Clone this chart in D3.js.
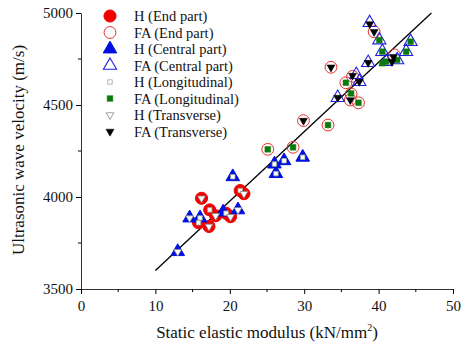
<!DOCTYPE html>
<html>
<head>
<meta charset="utf-8">
<script src="https://cdn.jsdelivr.net/npm/d3@7"></script>
<style>
  body { margin: 0; background: #fff; }
  text { font-family: "Liberation Serif", "DejaVu Serif", serif; }
</style>
</head>
<body>
<script>
// series data: [x (kN/mm2), y (m/s)]
const hEnd = [[16.2,3993],[17.3,3930],[15.8,3860],[17.2,3840],[18.1,3898],[19.5,3912],[20.1,3893],[21.4,4035],[21.9,4018]];
const faEnd = [[25.1,4259],[28.5,4270],[29.9,4415],[33.2,4391],[33.6,4705],[35.6,4621],[36.5,4656],[36.3,4560],[36.2,4527],[37.3,4512],[39.4,4898],[42.1,4772]];
const hCentral = [[13.0,3703],[14.6,3886],[16.0,3886],[19.1,3918],[21.1,3930],[20.4,4110],[26.0,4179],[26.2,4127],[27.3,4197],[29.8,4216]];
const faCentral = [[34.5,4540],[37.0,4665],[37.4,4627],[38.6,4730],[38.8,4947],[40.1,4853],[40.5,4790],[41.0,4736],[42.5,4745],[43.7,4790],[44.3,4844]];
const hLong = [[20.4,4110],[16.0,3886],[17.3,3930],[15.8,3860],[19.5,3912],[21.4,4035],[26.0,4179],[26.2,4127],[27.3,4197],[29.8,4216]];
const faLong = [[25.1,4259],[28.5,4270],[33.2,4391],[35.6,4621],[36.3,4563],[37.3,4512],[40.1,4853],[40.5,4790],[41.0,4736],[42.5,4745],[43.7,4790],[44.3,4844],[40.5,4727]];
const hTrans = [[16.2,3993],[17.2,3840],[13.0,3703],[14.6,3886],[20.1,3893],[21.1,3930],[21.9,4018],[18.1,3898]];
const faTrans = [[29.9,4415],[33.6,4705],[34.5,4540],[36.2,4527],[36.5,4660],[37.4,4627],[38.6,4730],[38.8,4940],[39.4,4898],[41.8,4735],[42.0,4762]];

const fitX = [10, 47.1];
const fitY = [3600, 5000];

const xTicks = [0, 10, 20, 30, 40, 50];
const yTicks = [3500, 4000, 4500, 5000];
const legendLabels = ["H (End part)", "FA (End part)", "H (Central part)", "FA (Central part)",
  "H (Longitudinal)", "FA (Longitudinal)", "H (Transverse)", "FA (Transverse)"];

const width = 474, height = 345;
const svg = d3.create("svg")
  .attr("width", width)
  .attr("height", height)
  .attr("viewBox", [0, 0, width, height]);

const x = d3.scaleLinear().domain([0, 50]).range([81, 453]);
const y = d3.scaleLinear().domain([3500, 5000]).range([289, 13]);

// axes
const xAxis = svg.append("g").attr("transform", "translate(0,289)")
  .call(d3.axisBottom(x).tickValues(xTicks).tickFormat(d3.format("d")).tickSize(5).tickSizeOuter(0).tickPadding(3));
xAxis.append("g").selectAll("line").data([5, 15, 25, 35, 45]).join("line")
  .attr("x1", d => x(d)).attr("x2", d => x(d)).attr("y1", 0).attr("y2", 3).attr("stroke", "#000");
const yAxis = svg.append("g").attr("transform", "translate(81,0)")
  .call(d3.axisLeft(y).tickValues(yTicks).tickFormat(d3.format("d")).tickSize(5).tickSizeOuter(0).tickPadding(3));
yAxis.append("g").selectAll("line").data([3750, 4250, 4750]).join("line")
  .attr("y1", d => y(d)).attr("y2", d => y(d)).attr("x1", 0).attr("x2", -3).attr("stroke", "#000");
xAxis.attr("font-family", "Liberation Serif");
yAxis.attr("font-family", "Liberation Serif");
svg.selectAll(".domain").attr("stroke", "#333");
svg.selectAll(".tick text")
  .style("font-family", "'Liberation Serif', serif").style("font-size", "15px").attr("fill", "#111");
xAxis.selectAll(".tick text").attr("dy", "0.9em");

// axis titles
svg.append("text")
  .attr("transform", "translate(24,150) rotate(-90)")
  .attr("text-anchor", "middle").attr("font-size", 17).attr("fill", "#111")
  .text("Ultrasonic wave velocity (m/s)");
const xt = svg.append("text")
  .attr("x", 267).attr("y", 338)
  .attr("text-anchor", "middle").attr("font-size", 17).attr("fill", "#111");
xt.append("tspan").text("Static elastic modulus (kN/mm");
xt.append("tspan").attr("font-size", 10).attr("dy", -7).text("2");
xt.append("tspan").attr("dy", 7).text(")");

// fit line
svg.append("line")
  .attr("x1", x(fitX[0])).attr("y1", y(fitY[0]))
  .attr("x2", x(fitX[1])).attr("y2", y(fitY[1]))
  .attr("stroke", "#000").attr("stroke-width", 1.3);

// marker styles
const styles = [
  {type: d3.symbolCircle, size: 115, fill: "#f00000", stroke: "#f00000", sw: 1},
  {type: d3.symbolCircle, size: 110, fill: "none", stroke: "#e83030", sw: 1},
  {type: d3.symbolTriangle, size: 80, fill: "#0010e0", stroke: "#0010e0", sw: 1},
  {type: d3.symbolTriangle, size: 75, fill: "none", stroke: "#2020e0", sw: 1.1},
  {type: d3.symbolSquare, size: 20, fill: "#fff", stroke: "#9aa890", sw: 0.8},
  {type: d3.symbolSquare, size: 32, fill: "#0a7a0a", stroke: "#0a7a0a", sw: 0.5},
  {type: d3.symbolTriangle, size: 26, fill: "#fff", stroke: "#888", sw: 0.8, down: true},
  {type: d3.symbolTriangle, size: 28, fill: "#000", stroke: "#000", sw: 0.5, down: true}
];
const series = [hEnd, faEnd, hCentral, faCentral, hLong, faLong, hTrans, faTrans];

function marker(g, st, px, py) {
  g.append("path")
    .attr("d", d3.symbol().type(st.type).size(st.size)())
    .attr("transform", `translate(${px},${py})` + (st.down ? " rotate(180)" : ""))
    .attr("fill", st.fill).attr("stroke", st.stroke).attr("stroke-width", st.sw);
}

const pts = svg.append("g");
series.forEach((s, i) => {
  s.forEach(d => marker(pts, styles[i], x(d[0]), y(d[1])));
});

// legend
const lg = svg.append("g");
legendLabels.forEach((lab, i) => {
  const ly = 16 + i * 16.5;
  marker(lg, styles[i], 110, ly);
  lg.append("text").attr("x", 134).attr("y", ly + 5)
    .attr("font-size", 14.5).attr("fill", "#111").text(lab);
});

d3.select("body").append(() => svg.node());
</script>
</body>
</html>
